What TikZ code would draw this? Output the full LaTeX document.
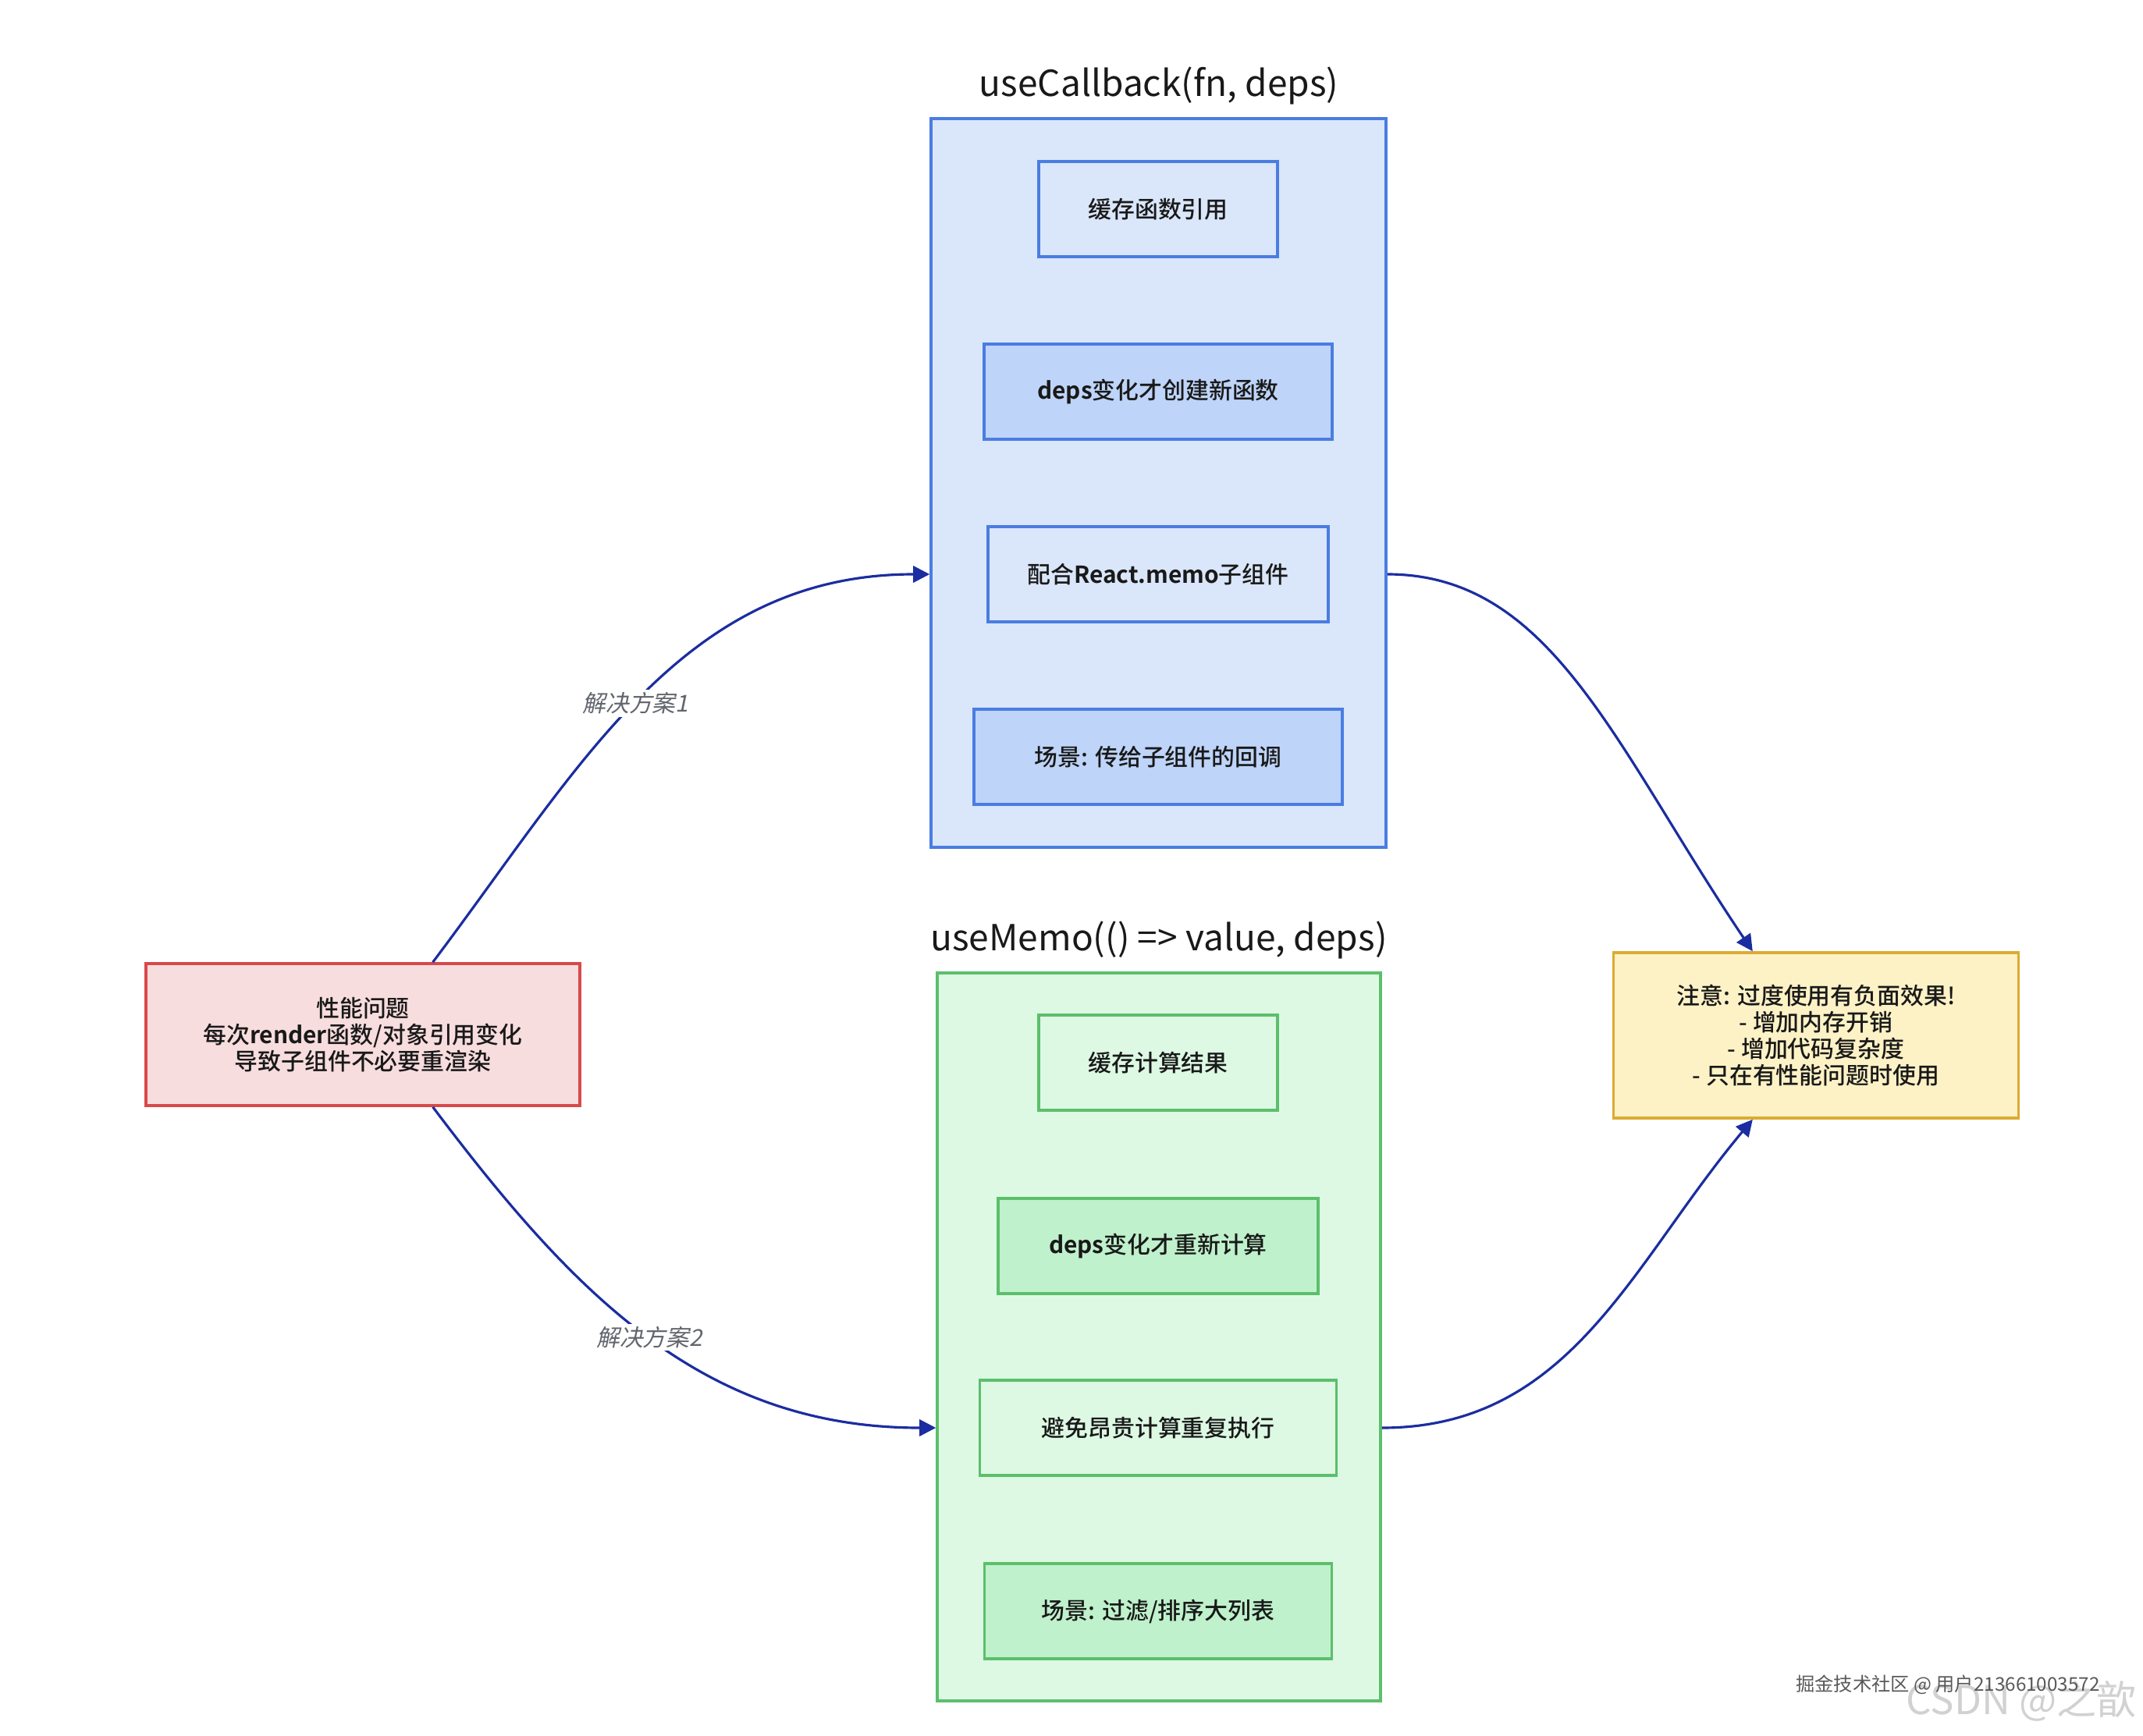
\documentclass[tikz,border=0pt]{standalone}
\usepackage{fontspec}
\setmainfont{Noto Sans CJK SC}[UprightFont={* Medium}, BoldFont={* Bold}]
\newfontfamily\regularfont{Noto Sans CJK SC}
\newfontfamily\slantfont[FakeSlant=0.2]{Noto Sans CJK SC}
\usetikzlibrary{arrows.meta}

\definecolor{cbfill}{HTML}{DAE6F9}
\definecolor{cbline}{HTML}{4A7DE2}
\definecolor{cbdark}{HTML}{BED4F8}
\definecolor{mmfill}{HTML}{DDF9E4}
\definecolor{mmline}{HTML}{5CBF6B}
\definecolor{mmdark}{HTML}{BFF1CC}
\definecolor{redfill}{HTML}{F8DDDE}
\definecolor{redline}{HTML}{D9494A}
\definecolor{yelfill}{HTML}{FDF2C6}
\definecolor{yelline}{HTML}{DCAB34}
\definecolor{arrowblue}{HTML}{1B2DA0}
\definecolor{labelgray}{HTML}{62656D}

\tikzset{
  every node/.style={font=\fontsize{8.5}{9.6}\selectfont, text=black!90},
  title/.style={font=\fontsize{13.1}{15}\regularfont},
  item/.style={draw, line width=0.9pt, minimum height=1.22cm, align=center},
  cbitem/.style={item, draw=cbline, fill=cbfill},
  mmitem/.style={item, draw=mmline, fill=mmfill},
  link/.style={draw=arrowblue, line width=0.9pt, -{Triangle[length=6pt,width=6pt]}},
  pathlabel/.style={fill=white, text=labelgray, font=\fontsize{8.5}{9.6}\slantfont, inner sep=1pt},
}

\begin{document}
\begin{tikzpicture}
\useasboundingbox (0,0) rectangle (27.46,22.24);

% useCallback
\node[draw=cbline, fill=cbfill, line width=1pt, minimum width=5.83cm, minimum height=9.34cm] (cbbox) at (14.845,16.05) {};
\node[title] (cbtitle) at (14.85,21.14) {useCallback(fn, deps)};

\node[cbitem, minimum width=3.06cm] (cbcache) at (14.84,19.56) {缓存函数引用};
\node[cbitem, fill=cbdark, minimum width=4.46cm] (cbdeps) at (14.84,17.22) {\textbf{deps}变化才创建新函数};
\node[cbitem, minimum width=4.36cm] (cbmemo) at (14.84,14.88) {配合\textbf{React.memo}子组件};
\node[cbitem, fill=cbdark, minimum width=4.72cm] (cbscene) at (14.84,12.54) {场景: 传给子组件的回调};

% useMemo
\node[draw=mmline, fill=mmfill, line width=1pt, minimum width=5.68cm, minimum height=9.33cm] (mmbox) at (14.85,5.105) {};
\node[title] (mmtitle) at (14.85,10.19) {useMemo(() => value, deps)};

\node[mmitem, minimum width=3.06cm] (mmcache) at (14.84,8.62) {缓存计算结果};
\node[mmitem, fill=mmdark, minimum width=4.10cm] (mmdeps) at (14.84,6.27) {\textbf{deps}变化才重新计算};
\node[mmitem, minimum width=4.57cm] (mmcost) at (14.84,3.94) {避免昂贵计算重复执行};
\node[mmitem, fill=mmdark, minimum width=4.45cm] (mmscene) at (14.84,1.59) {场景: 过滤/排序大列表};

% Probleme et avertissement
\node[draw=redline, fill=redfill, line width=1pt, minimum width=5.56cm, minimum height=1.82cm, align=center] (perf) at (4.65,8.98)
{性能问题\\每次\textbf{render}函数/对象引用变化\\导致子组件不必要重渲染};

\node[draw=yelline, fill=yelfill, line width=1pt, minimum width=5.19cm, minimum height=2.12cm, align=center] (warn) at (23.27,8.97)
{注意: 过度使用有负面效果!\\- 增加内存开销\\- 增加代码复杂度\\- 只在有性能问题时使用};

% Liens
\draw[link] (perf.46) to[out=53, in=180] node[pathlabel, pos=0.48] {解决方案1} (cbmemo.west -| cbbox.west);
\draw[link] (perf.-46) to[out=-53, in=180] node[pathlabel, pos=0.50] {解决方案2} (mmcost.west -| mmbox.west);
\draw[link] (cbmemo.east -| cbbox.east) to[out=0, in=124, out looseness=0.8, in looseness=1.2] (warn.127);
\draw[link] (mmcost.east -| mmbox.east) to[out=0, in=-130] (warn.-127);

% Filigrane
\node[text=black!18, font=\fontsize{14.5}{16}\regularfont] (csdnmark) at (25.9,0.44) {CSDN @之歆};
\node[text=black!65, font=\fontsize{6.9}{8}\regularfont] (juejinmark) at (24.96,0.65) {掘金技术社区 @ 用户213661003572};

\end{tikzpicture}
\end{document}
